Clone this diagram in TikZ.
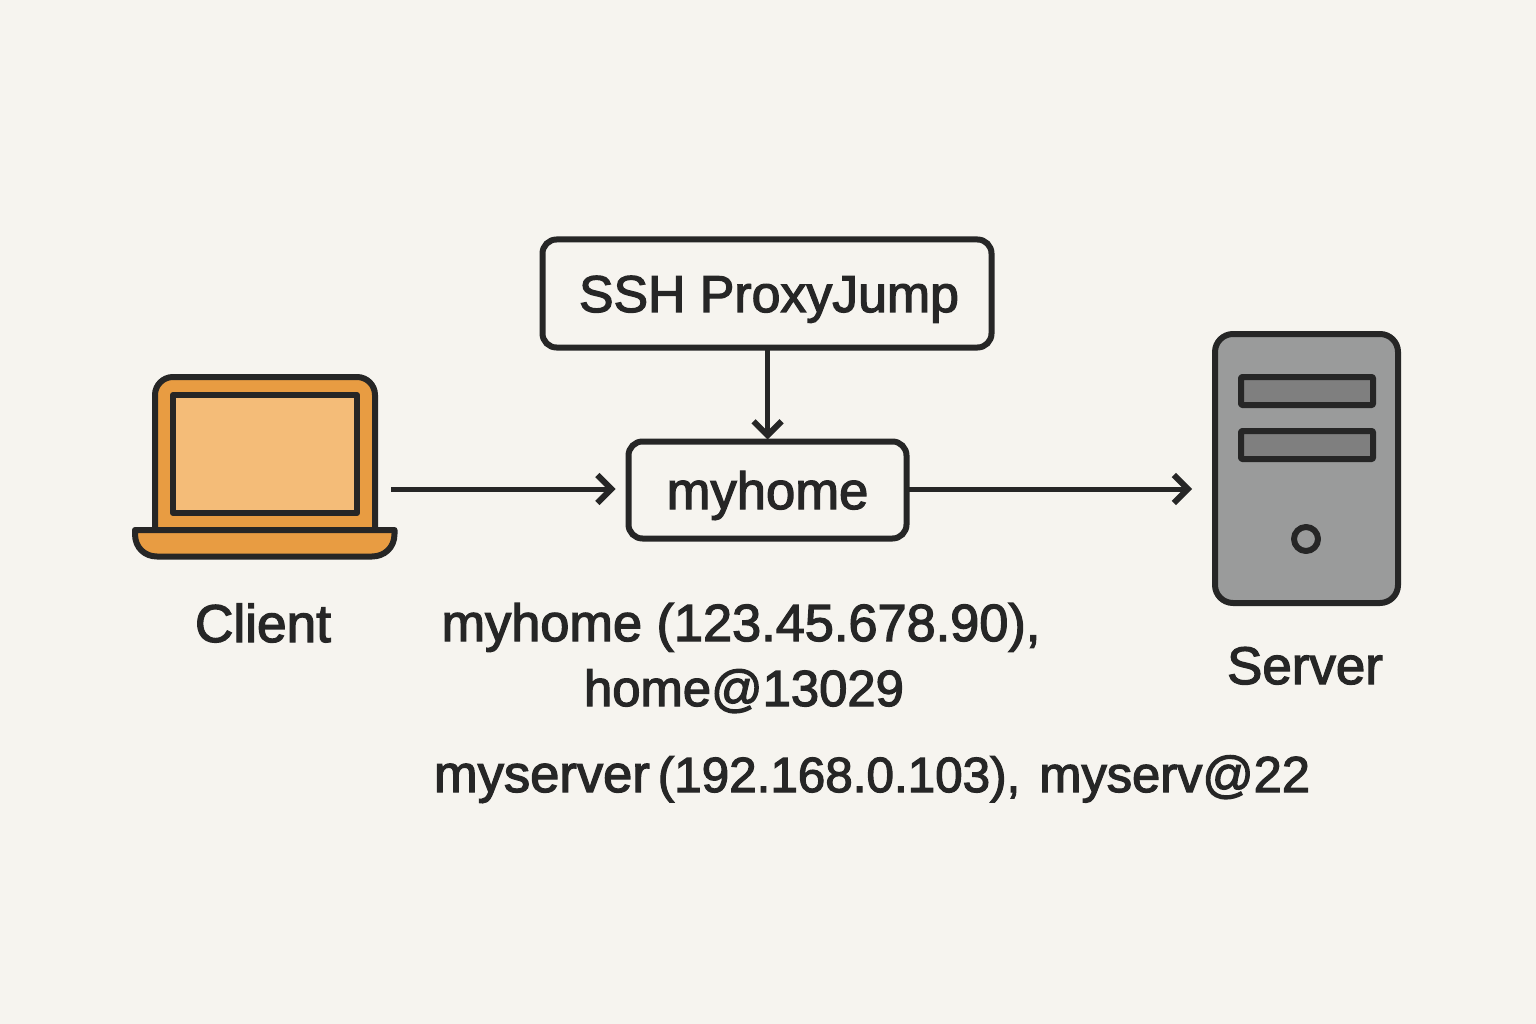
\documentclass[tikz,border=0pt]{standalone}
\usepackage{fontspec}
\setmainfont[FakeBold=2.4]{Liberation Sans}
\usetikzlibrary{arrows.meta}
\definecolor{paper}{HTML}{F6F4EF}
\definecolor{ink}{HTML}{262626}
\definecolor{lidorange}{HTML}{E89C42}
\definecolor{screenorange}{HTML}{F4BC78}
\definecolor{casegray}{HTML}{9A9B9B}
\definecolor{slotgray}{HTML}{7F7F7F}
\newcommand{\fsz}[1]{\fontsize{#1}{60}\selectfont}
\tikzset{
  x=1pt,y=-1pt,
  boxnode/.style={draw=ink,line width=6pt,rounded corners=14pt,outer sep=0pt,inner sep=0pt,text=ink,text height=37pt,text depth=0pt},
  conn/.style={draw=ink,line width=5pt,-{Straight Barb[length=14pt,width=28pt,line width=6pt]}},
  label/.style={text=ink,anchor=base,inner sep=0pt},
  part/.style={draw=ink,line width=6pt,line join=round},
  device/.style={part,outer sep=0pt,inner sep=0pt},
}
\begin{document}
\begin{tikzpicture}
\useasboundingbox (0,0) rectangle (1536,1024);
\fill[paper] (0,0) rectangle (1536,1024);
% laptop
\node[device,fill=lidorange,rounded corners=18pt,minimum width=220pt,minimum height=173pt] (lid) at (265,463.5) {};
\node[device,fill=screenorange,minimum width=184pt,minimum height=118pt] (screen) at (265,454) {};
\draw[part,fill=lidorange] (135,530) -- (394.5,530) -- (394.5,534) .. controls (394.5,548) and (384,556.5) .. (372,556.5) -- (157,556.5) .. controls (145,556.5) and (135,548) .. (135,534) -- cycle;
% server
\node[device,fill=casegray,rounded corners=18pt,minimum width=183pt,minimum height=269pt] (server) at (1306.5,468.5) {};
\node[device,fill=slotgray,rounded corners=1pt,minimum width=132pt,minimum height=28pt] (slota) at (1307,391) {};
\node[device,fill=slotgray,rounded corners=1pt,minimum width=132pt,minimum height=28pt] (slotb) at (1307,445) {};
\node[device,fill=casegray,circle,minimum size=24pt] (power) at (1306,539) {};
% boxes
\node[boxnode,minimum width=449pt,minimum height=108pt,font=\fsz{51.8}] (proxy) at (767,293.5) {\hspace{4pt}SSH ProxyJump};
\node[boxnode,minimum width=278pt,minimum height=97pt,text height=38pt,font=\fsz{52.6}] (myhome) at (767.5,490) {myhome};
% connectors
\draw[conn,shorten <=16pt,shorten >=13pt] ([yshift=1pt]lid.east |- myhome.west) -- ([yshift=1pt]myhome.west);
\draw[conn,shorten >=23pt] ([yshift=1pt]myhome.east) -- ([yshift=1pt]server.west |- myhome.east);
\draw[conn,shorten >=2pt] (proxy.south -| myhome.north) -- (myhome.north);
% labels
\node[label,font=\fsz{53.2}] (clientlabel) at (263,642) {Client};
\node[label,font=\fsz{52.9}] (serverlabel) at (1305,684) {Server};
\node[label,font=\fsz{52.3}] (hopa) at (741,641) {myhome (123.45.678.90),};
\node[label,font=\fsz{50.8}] (hopb) at (744,706) {home@13029};
\node[label] (targetlabel) at (872,792) {\fsz{52.5}myserver\hspace{8pt}\fsz{49.4}(192.168.0.103),\hspace{19pt}\fsz{50.6}myserv@22};
\end{tikzpicture}
\end{document}
